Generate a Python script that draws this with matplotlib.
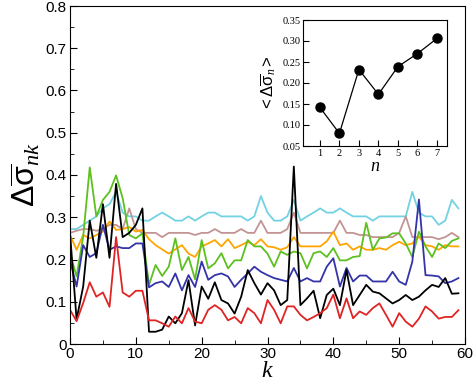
import matplotlib
matplotlib.use("Agg")
import matplotlib.pyplot as plt
from matplotlib.ticker import MultipleLocator, FuncFormatter

plt.rcParams['font.family'] = ['Liberation Sans', 'DejaVu Sans']
plt.rcParams['mathtext.fontset'] = 'custom'
plt.rcParams['mathtext.rm'] = 'Liberation Sans'
plt.rcParams['mathtext.it'] = 'Liberation Serif:italic'
plt.rcParams['mathtext.bf'] = 'Liberation Sans:bold'

k = list(range(60))

s1_black = [0.263, 0.058, 0.136, 0.292, 0.204, 0.331, 0.204, 0.379, 0.253, 0.263,
            0.282, 0.321, 0.029, 0.029, 0.034, 0.065, 0.049, 0.073, 0.151, 0.044,
            0.136, 0.107, 0.146, 0.104, 0.096, 0.072, 0.112, 0.175, 0.144, 0.117,
            0.144, 0.127, 0.092, 0.104, 0.420, 0.092, 0.108, 0.126, 0.061, 0.116,
            0.131, 0.092, 0.175, 0.092, 0.116, 0.140, 0.124, 0.120, 0.108, 0.096,
            0.104, 0.116, 0.104, 0.112, 0.127, 0.140, 0.135, 0.156, 0.119, 0.120]
s2_red = [0.081, 0.054, 0.097, 0.146, 0.112, 0.122, 0.088, 0.253, 0.122, 0.112,
          0.126, 0.126, 0.056, 0.056, 0.049, 0.041, 0.065, 0.049, 0.085, 0.053,
          0.049, 0.081, 0.092, 0.081, 0.056, 0.064, 0.049, 0.085, 0.073, 0.049,
          0.104, 0.081, 0.049, 0.089, 0.089, 0.069, 0.056, 0.064, 0.073, 0.085,
          0.117, 0.061, 0.108, 0.061, 0.077, 0.069, 0.085, 0.096, 0.069, 0.041,
          0.073, 0.053, 0.041, 0.060, 0.089, 0.077, 0.060, 0.064, 0.064, 0.080]
s3_green = [0.214, 0.160, 0.254, 0.418, 0.302, 0.341, 0.360, 0.399, 0.345, 0.258,
            0.250, 0.262, 0.140, 0.187, 0.161, 0.183, 0.250, 0.175, 0.206, 0.153,
            0.246, 0.179, 0.191, 0.215, 0.179, 0.198, 0.198, 0.246, 0.231, 0.231,
            0.214, 0.183, 0.219, 0.211, 0.219, 0.215, 0.179, 0.215, 0.219, 0.206,
            0.227, 0.198, 0.198, 0.206, 0.208, 0.287, 0.223, 0.250, 0.252, 0.262,
            0.262, 0.238, 0.206, 0.266, 0.231, 0.206, 0.238, 0.227, 0.244, 0.250]
s4_blue = [0.198, 0.136, 0.234, 0.206, 0.215, 0.282, 0.223, 0.231, 0.227, 0.227,
           0.238, 0.238, 0.134, 0.144, 0.148, 0.135, 0.167, 0.127, 0.163, 0.135,
           0.195, 0.152, 0.163, 0.167, 0.160, 0.135, 0.152, 0.167, 0.183, 0.171,
           0.163, 0.156, 0.152, 0.148, 0.180, 0.148, 0.156, 0.148, 0.148, 0.183,
           0.203, 0.136, 0.180, 0.148, 0.162, 0.162, 0.148, 0.148, 0.148, 0.171,
           0.148, 0.140, 0.195, 0.342, 0.163, 0.162, 0.160, 0.144, 0.148, 0.156]
s5_orange = [0.258, 0.223, 0.258, 0.250, 0.258, 0.266, 0.290, 0.270, 0.272, 0.277,
             0.266, 0.270, 0.248, 0.234, 0.224, 0.214, 0.224, 0.234, 0.214, 0.206,
             0.231, 0.238, 0.246, 0.231, 0.248, 0.227, 0.234, 0.242, 0.234, 0.248,
             0.231, 0.229, 0.223, 0.229, 0.253, 0.231, 0.231, 0.231, 0.231, 0.243,
             0.266, 0.234, 0.238, 0.223, 0.231, 0.223, 0.223, 0.227, 0.223, 0.234,
             0.242, 0.234, 0.238, 0.254, 0.234, 0.231, 0.223, 0.234, 0.231, 0.231]
s6_brown = [0.263, 0.268, 0.272, 0.272, 0.268, 0.272, 0.282, 0.282, 0.272, 0.321,
            0.272, 0.263, 0.263, 0.263, 0.253, 0.263, 0.263, 0.263, 0.263, 0.258,
            0.263, 0.263, 0.272, 0.263, 0.263, 0.263, 0.272, 0.263, 0.263, 0.292,
            0.263, 0.263, 0.263, 0.272, 0.311, 0.263, 0.263, 0.263, 0.263, 0.263,
            0.263, 0.292, 0.263, 0.263, 0.258, 0.258, 0.253, 0.253, 0.253, 0.253,
            0.263, 0.302, 0.253, 0.253, 0.253, 0.253, 0.248, 0.253, 0.263, 0.253]
s7_cyan = [0.272, 0.272, 0.282, 0.292, 0.302, 0.321, 0.331, 0.360, 0.311, 0.302,
           0.302, 0.292, 0.292, 0.302, 0.311, 0.302, 0.292, 0.292, 0.302, 0.292,
           0.302, 0.311, 0.311, 0.302, 0.302, 0.302, 0.302, 0.292, 0.302, 0.350,
           0.311, 0.292, 0.292, 0.302, 0.341, 0.292, 0.302, 0.311, 0.321, 0.311,
           0.311, 0.321, 0.311, 0.302, 0.302, 0.302, 0.292, 0.302, 0.302, 0.302,
           0.302, 0.302, 0.360, 0.311, 0.302, 0.302, 0.282, 0.292, 0.341, 0.321]

n_vals = [1, 2, 3, 4, 5, 6, 7]
mean_vals = [0.142, 0.080, 0.232, 0.173, 0.239, 0.270, 0.306]

series = [
    (s7_cyan, '#72d2e2'),
    (s6_brown, '#c49494'),
    (s5_orange, '#ffa500'),
    (s3_green, '#5cc01f'),
    (s4_blue, '#3434a8'),
    (s1_black, '#000000'),
    (s2_red, '#e02424'),
]

fig = plt.figure(figsize=(4.74, 3.82), dpi=100)
ax = fig.add_axes([70/474, 38/382, 395/474, 338/382])
for vals, col in series:
    ax.plot(k, vals, color=col, lw=1.3)

ax.set_xlim(0, 60)
ax.set_ylim(0, 0.8)
ax.xaxis.set_major_locator(MultipleLocator(10))
ax.xaxis.set_minor_locator(MultipleLocator(5))
ax.yaxis.set_major_locator(MultipleLocator(0.1))
ax.yaxis.set_minor_locator(MultipleLocator(0.05))
ax.yaxis.set_major_formatter(FuncFormatter(lambda v, p: '0' if abs(v) < 1e-9 else f'{v:.1f}'))
ax.tick_params(which='both', direction='in', top=False, right=False, labelsize=11, pad=2.5)
ax.tick_params(which='major', length=5)
ax.tick_params(which='minor', length=3)
ax.set_xlabel(r'$k$', fontsize=17, labelpad=-1)
ax.set_ylabel(r'$\mathrm{\Delta}\overline{\mathrm{\sigma}}_{nk}$', fontsize=23, labelpad=2)

ins = fig.add_axes([303.3/474, (382-146)/382, 143.4/474, 126/382])
ins.plot(n_vals, mean_vals, color='black', lw=0.9, marker='o', markersize=6.5)
ins.set_xlim(0.15, 7.5)
ins.set_ylim(0.05, 0.35)
ins.set_xticks(n_vals)
ins.yaxis.set_major_locator(MultipleLocator(0.05))
ins.yaxis.set_major_formatter(FuncFormatter(lambda v, p: f'{v:.2f}'))
ins.tick_params(direction='in', length=4, labelsize=7.5, pad=2, width=0.8)
for lab in ins.get_xticklabels() + ins.get_yticklabels():
    lab.set_fontfamily('Liberation Serif')
for sp in ins.spines.values():
    sp.set_linewidth(0.8)
ins.set_xlabel(r'$n$', fontsize=13, labelpad=0)
ins.set_ylabel(r'$<\mathrm{\Delta}\overline{\mathrm{\sigma}}_{n}>$', fontsize=12, labelpad=3)

fig.savefig('out.png', dpi=100)
